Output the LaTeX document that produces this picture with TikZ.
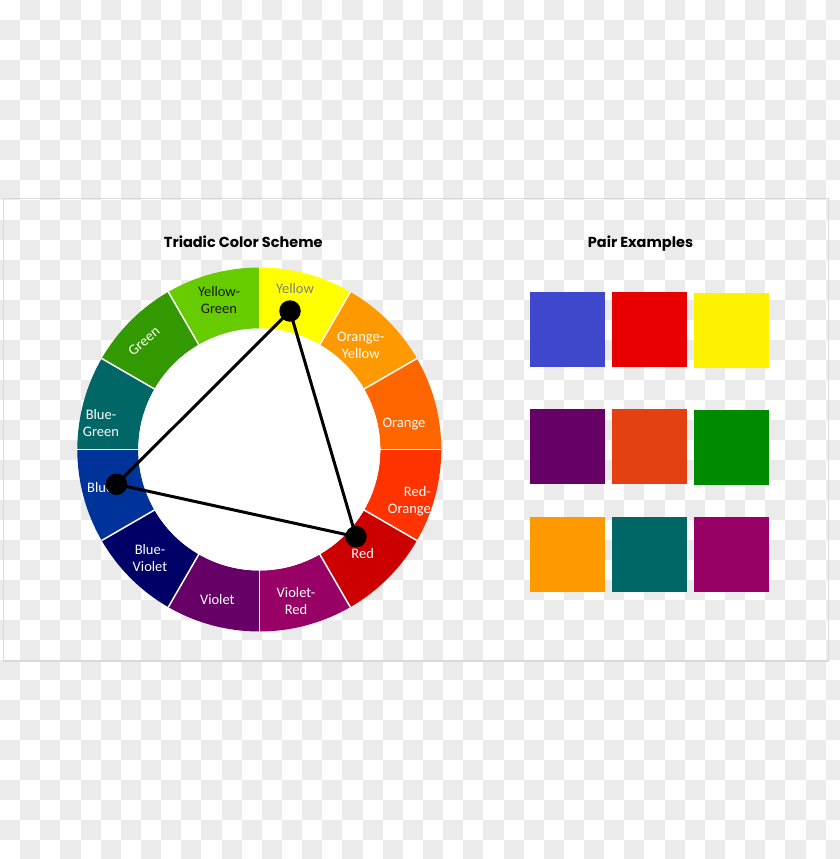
\documentclass[tikz,border=0pt]{standalone}
\usepackage{fontspec}
\setmainfont{Carlito}
\newfontfamily\headfont{Poppins}
\usetikzlibrary{positioning}

\definecolor{cYellow}{HTML}{FFFF00}
\definecolor{cOrangeYellow}{HTML}{FF9900}
\definecolor{cOrange}{HTML}{FF6600}
\definecolor{cRedOrange}{HTML}{FF3300}
\definecolor{cRed}{HTML}{CC0000}
\definecolor{cVioletRed}{HTML}{990066}
\definecolor{cViolet}{HTML}{660066}
\definecolor{cBlueViolet}{HTML}{000066}
\definecolor{cBlue}{HTML}{003399}
\definecolor{cBlueGreen}{HTML}{006666}
\definecolor{cGreen}{HTML}{339900}
\definecolor{cYellowGreen}{HTML}{66CC00}
\definecolor{pBlue}{HTML}{3F48CC}
\definecolor{pRed}{HTML}{E80000}
\definecolor{pYellow}{HTML}{FFF200}
\definecolor{pRedOrange}{HTML}{E54012}
\definecolor{pGreen}{HTML}{008A00}
\definecolor{checkgray}{HTML}{EBEBEB}

\begin{document}
\begin{tikzpicture}[x=1pt,y=-1pt]
			\tikzstyle{checker}=[fill=checkgray]
			\tikzstyle{frame}=[draw=black!15,line width=1.5pt]
			\tikzstyle{wlabel}=[align=center,text=white,font=\fontsize{14.5}{17}\selectfont,inner sep=0pt]
			\tikzstyle{title}=[font=\headfont\bfseries\fontsize{14.5}{16}\selectfont,inner sep=0pt]
			\tikzstyle{swatch}=[minimum size=75pt,inner sep=0pt]
			\tikzstyle{dot}=[circle,fill=black,minimum size=21.5pt,inner sep=0pt]
			\tikzstyle{tri}=[line width=3pt,black]

			\clip (0,0) rectangle (840,859);
			% checkerboard background
			\foreach \i in {0,...,41}
				\foreach \j in {0,...,42}{
					\pgfmathparse{int(mod(\i+\j,2))}
					\ifnum\pgfmathresult=1 \fill[checker] (\i*20.14,\j*20) rectangle ++(20.14,20); \fi
				}
			\draw[frame] (3.3,198.3) rectangle (828.3,661);

			% colour wheel
			\begin{scope}[shift={(259.3,449.5)},y=1pt]
				\foreach \a/\col in {0/cOrange,30/cOrangeYellow,60/cYellow,90/cYellowGreen,120/cGreen,150/cBlueGreen,180/cBlue,210/cBlueViolet,240/cViolet,270/cVioletRed,300/cRed,330/cRedOrange}
					\fill[\col] (\a:121) arc[start angle=\a,end angle=\a+30,radius=121] -- (\a+30:182) arc[start angle=\a+30,end angle=\a,radius=182] -- cycle;
				\foreach \a in {0,30,...,330}
					\draw[white,line width=1.5pt] (\a:120) -- (\a:182);
				\fill[white] (0,0) circle[radius=121];
			\end{scope}

			\node[wlabel,text=black!50] (lyel) at (295,289) {Yellow};
			\node[wlabel,text=black!90] (lyelgrn) at (219,300.5) {Yellow-\\Green};
			\node[wlabel,rotate=40] (lgrn) at (144,341) {Green};
			\node[wlabel] (lblugrn) at (101,423) {Blue-\\Green};
			\node[wlabel,anchor=west] (lblu) at (87,488) {Blue};
			\node[wlabel] (lbluvio) at (150,558) {Blue-\\Violet};
			\node[wlabel] (lvio) at (217.3,600) {Violet};
			\node[wlabel] (lviored) at (296,601.5) {Violet-\\Red};
			\node[wlabel] (lred) at (362.7,553.3) {Red};
			\node[wlabel,align=right,anchor=east] (lredora) at (431,501.5) {Red-\\Orange};
			\node[wlabel] (lora) at (404,424.3) {Orange};
			\node[wlabel] (loraye) at (360.7,345.3) {Orange-\\Yellow};

			% triad
			\node[dot] (yel) at (290,311) {};
			\node[dot] (blu) at (116.5,484.3) {};
			\node[dot] (red) at (356,536.7) {};
			\draw[tri] (yel.center) -- (blu.center) -- (red.center) -- cycle;

			% titles
			\node[title] (wheeltitle) at (243.3,241.7) {Triadic Color Scheme};
			\node[title] (pairtitle) at (640.5,244) {Pair Examples};

			% pairs
			\node[swatch,fill=pBlue] (p11) at (567.3,329.3) {};
			\node[swatch,fill=pRed,right=6.7pt of p11] (p12) {};
			\node[swatch,fill=pYellow,right=6.7pt of p12,yshift=-1pt] (p13) {};
			\node[swatch,fill=cViolet] (p21) at (567.3,446) {};
			\node[swatch,fill=pRedOrange,right=6.7pt of p21] (p22) {};
			\node[swatch,fill=pGreen,right=6.7pt of p22,yshift=-1pt] (p23) {};
			\node[swatch,fill=cOrangeYellow] (p31) at (567.3,554.2) {};
			\node[swatch,fill=cBlueGreen,right=6.7pt of p31] (p32) {};
			\node[swatch,fill=cVioletRed,right=6.7pt of p32] (p33) {};
\end{tikzpicture}
\end{document}
